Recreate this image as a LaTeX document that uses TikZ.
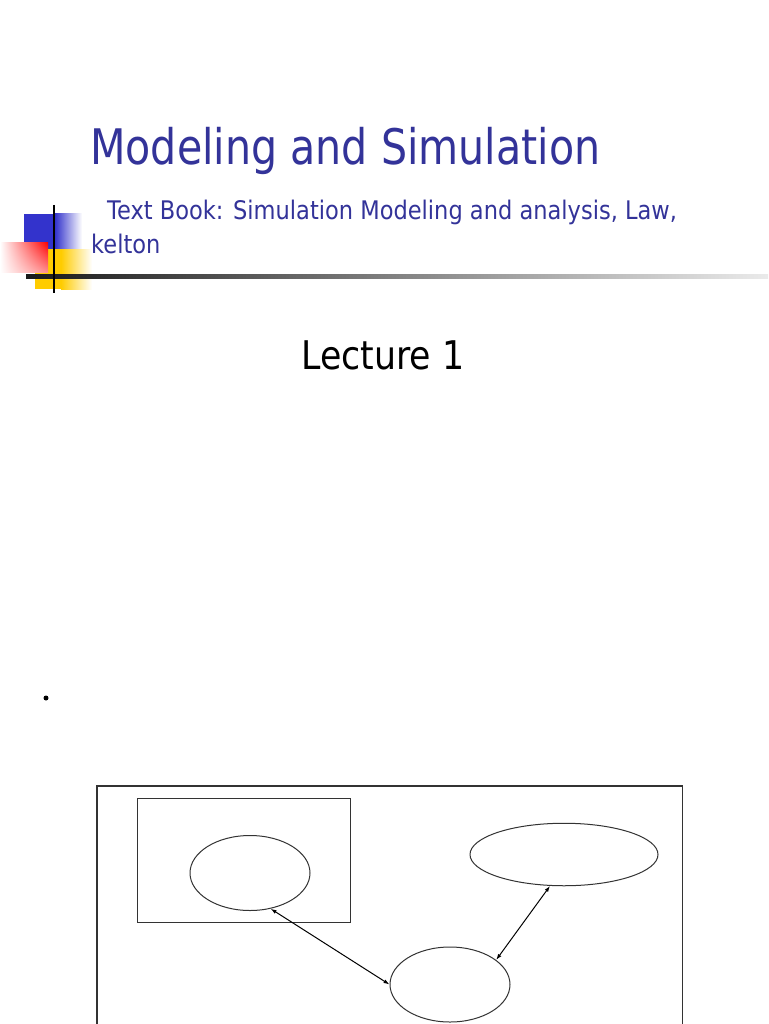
\documentclass[tikz,border=0pt]{standalone}
\usepackage{fontspec}
\setmainfont{DejaVu Sans}[FakeStretch=0.88]
\newfontfamily\headfont{DejaVu Sans}[FakeStretch=0.84]
\usetikzlibrary{shapes.geometric,arrows.meta,shadings}

\definecolor{titleblue}{HTML}{333399}
\definecolor{sqblue}{HTML}{3333CC}
\definecolor{sqyellow}{HTML}{FFCC00}
\definecolor{sqred}{HTML}{FF0000}
\definecolor{linegray}{HTML}{333333}

\tikzset{
	oval/.style={draw=linegray, ellipse, inner sep=0pt, line width=1pt},
	frame/.style={draw=linegray, inner sep=0pt, line width=1pt},
	link/.style={{Latex[length=6pt,width=4pt]}-{Latex[length=6pt,width=4pt]}, line width=1pt}
}

\begin{document}
\begin{tikzpicture}[x=1pt,y=-1pt]
	\useasboundingbox[fill=white] (0,0) rectangle (768,1024);
	
	% corner squares
	\fill[sqblue] (24,214) rectangle (56,249);
	\shade[left color=sqblue, right color=white] (55,214) rectangle (82,249);
	\fill[sqyellow] (35,249) rectangle (62,289);
	\shade[left color=sqyellow, right color=white] (61,249) rectangle (92,289);
	\shade[upper right=sqred, lower right=sqred!45, upper left=white, lower left=white] (0,242) rectangle (48,272);
	
	\shade[left color=black!90, middle color=black!55, right color=black!8] (26,274) rectangle (768,278);
	\draw[line width=2pt] (54,205) -- (54,293);
	
	\node[anchor=base west, text=titleblue, font=\headfont\fontsize{49}{58}\selectfont, inner sep=0pt] (title) at (90,165) {Modeling and Simulation};
	\node[anchor=base west, text=titleblue, font=\fontsize{25.6}{32}\selectfont, inner sep=0pt] (book) at (107,220) {Text Book: Simulation Modeling and analysis, Law,};
	\node[anchor=base west, text=titleblue, font=\fontsize{25.6}{32}\selectfont, inner sep=0pt] (author) at (91,253) {kelton};
	
	\node[anchor=base, font=\fontsize{39.5}{48}\selectfont, inner sep=0pt] (lecture) at (383,369) {Lecture 1};
	
	\fill (46,698) circle (2.5);
	
	% diagram
	\draw[linegray, line width=1.2pt] (97,1030) |- (682.5,786) -- (682.5,1030);
	\node[frame, minimum width=213pt, minimum height=124pt] (box) at (243.5,860.5) {};
	
	\node[oval, minimum width=120pt, minimum height=75pt] (ovalA) at (250,873) {};
	\node[oval, minimum width=188pt, minimum height=62.5pt] (ovalB) at (564,854.5) {};
	\node[oval, minimum width=120pt, minimum height=75pt] (ovalC) at (450,984.5) {};
	
	\draw[link] (ovalA.-60) -- (ovalC.west);
	\draw[link] (ovalC.28) -- (ovalB.-114);
\end{tikzpicture}
\end{document}
